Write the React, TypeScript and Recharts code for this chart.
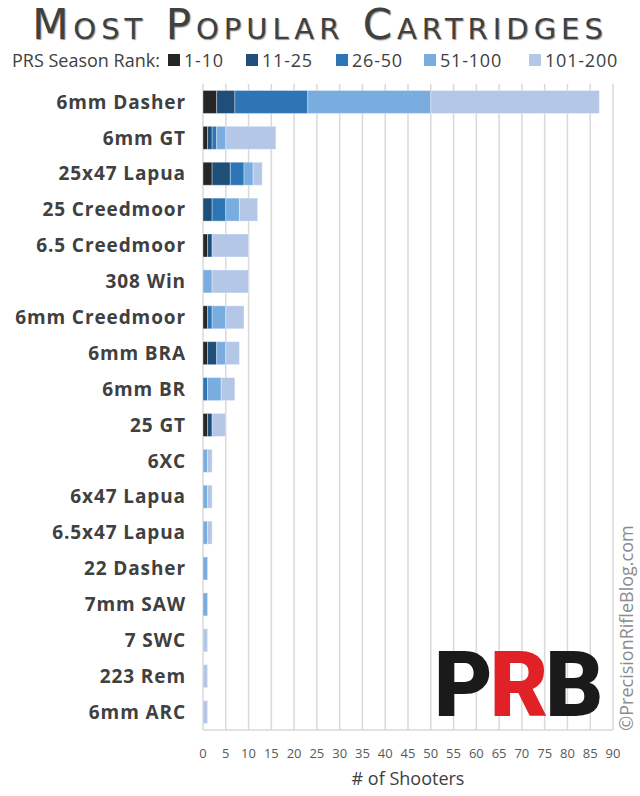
import { Bar, BarChart, CartesianGrid, XAxis, YAxis } from "recharts"

const cartridges = [
  "6mm Dasher",
  "6mm GT",
  "25x47 Lapua",
  "25 Creedmoor",
  "6.5 Creedmoor",
  "308 Win",
  "6mm Creedmoor",
  "6mm BRA",
  "6mm BR",
  "25 GT",
  "6XC",
  "6x47 Lapua",
  "6.5x47 Lapua",
  "22 Dasher",
  "7mm SAW",
  "7 SWC",
  "223 Rem",
  "6mm ARC",
]

const rank1to10 = [3, 1, 2, 0, 1, 0, 1, 1, 0, 1, 0, 0, 0, 0, 0, 0, 0, 0]
const rank11to25 = [4, 1, 4, 2, 1, 0, 0, 2, 0, 1, 0, 0, 0, 0, 0, 0, 0, 0]
const rank26to50 = [16, 1, 3, 3, 0, 0, 1, 0, 1, 0, 0, 0, 0, 0, 0, 0, 0, 0]
const rank51to100 = [27, 2, 2, 3, 0, 2, 3, 2, 3, 0, 1, 1, 1, 1, 1, 0, 0, 0]
const rank101to200 = [37, 11, 2, 4, 8, 8, 4, 3, 3, 3, 1, 1, 1, 0, 0, 1, 1, 1]

const xTicks = [0, 5, 10, 15, 20, 25, 30, 35, 40, 45, 50, 55, 60, 65, 70, 75, 80, 85, 90]

const series = [
  { key: "r1", label: "1-10", color: "#262626" },
  { key: "r2", label: "11-25", color: "#1f4e79" },
  { key: "r3", label: "26-50", color: "#2e75b6" },
  { key: "r4", label: "51-100", color: "#7aaddf" },
  { key: "r5", label: "101-200", color: "#b4c7e7" },
]

const data = cartridges.map((name, i) => ({
  name,
  r1: rank1to10[i],
  r2: rank11to25[i],
  r3: rank26to50[i],
  r4: rank51to100[i],
  r5: rank101to200[i],
}))

const textColor = "#404040"
const gridColor = "#d9d9d9"
// left edge of each legend swatch
const legendX = [168, 246, 336, 424, 529]

export default function App() {
  return (
    <div
      style={{
        position: "absolute",
        left: 0,
        top: 0,
        width: 640,
        height: 796,
        background: "#fff",
        overflow: "hidden",
        fontFamily: "Open Sans, sans-serif",
      }}
    >
      <div
        style={{
          position: "absolute",
          top: 2,
          left: 0,
          width: 640,
          textAlign: "center",
          fontFamily: "DejaVu Sans, sans-serif",
          fontVariant: "small-caps",
          fontSize: 42,
          lineHeight: "46px",
          letterSpacing: 5,
          color: textColor,
          textShadow: "1px 1px 1px #999",
          whiteSpace: "nowrap",
        }}
      >
        Most Popular Cartridges
      </div>

      <div
        style={{
          position: "absolute",
          top: 47,
          left: 12,
          fontSize: 18,
          lineHeight: "26px",
          color: textColor,
          whiteSpace: "nowrap",
        }}
      >
        PRS Season Rank:
      </div>
      {series.map((s, i) => (
        <div
          key={s.key}
          style={{
            position: "absolute",
            top: 47,
            left: legendX[i],
            display: "flex",
            alignItems: "center",
            height: 26,
            fontSize: 18,
            letterSpacing: 0.8,
            color: textColor,
            whiteSpace: "nowrap",
          }}
        >
          <span style={{ width: 12, height: 12, background: s.color, marginRight: 4 }} />
          {s.label}
        </div>
      ))}

      <div style={{ position: "absolute", left: 0, top: 0 }}>
        <BarChart
          width={640}
          height={796}
          data={data}
          layout="vertical"
          margin={{ top: 84, right: 27, bottom: 36, left: 0 }}
          barCategoryGap="18%"
        >
          <CartesianGrid horizontal={false} stroke={gridColor} strokeWidth={1.5} />
          <XAxis
            type="number"
            domain={[0, 90]}
            ticks={xTicks}
            interval={0}
            tickLine={false}
            axisLine={{ stroke: gridColor, strokeWidth: 1.5 }}
            tickMargin={13}
            tick={{ fill: "#595959", fontSize: 13 }}
          />
          <YAxis
            type="category"
            dataKey="name"
            width={203}
            tickLine={false}
            axisLine={false}
            interval={0}
            tickMargin={11}
            tick={{ fill: textColor, fontSize: 19, fontWeight: 700, letterSpacing: 0.9 }}
          />
          {series.map((s) => (
            <Bar
              key={s.key}
              dataKey={s.key}
              stackId="a"
              fill={s.color}
              stroke="#ffffff"
              strokeOpacity={0.35}
              isAnimationActive={false}
            />
          ))}
        </BarChart>
      </div>

      <div
        style={{
          position: "absolute",
          top: 766,
          left: 203,
          width: 410,
          textAlign: "center",
          fontSize: 18,
          color: textColor,
        }}
      >
        # of Shooters
      </div>

      <div
        style={{
          position: "absolute",
          left: 434,
          top: 636,
          fontFamily: "Roboto, sans-serif",
          fontWeight: 900,
          fontSize: 90,
          lineHeight: "100px",
          letterSpacing: -3,
          color: "#1a1a1a",
        }}
      >
        P<span style={{ color: "#e02226" }}>R</span>B
      </div>

      <div
        style={{
          position: "absolute",
          left: 626,
          top: 628,
          transform: "translate(-50%, -50%) rotate(-90deg)",
          fontSize: 18,
          color: "#8c8c8c",
          whiteSpace: "nowrap",
        }}
      >
        ©PrecisionRifleBlog.com
      </div>
    </div>
  )
}
